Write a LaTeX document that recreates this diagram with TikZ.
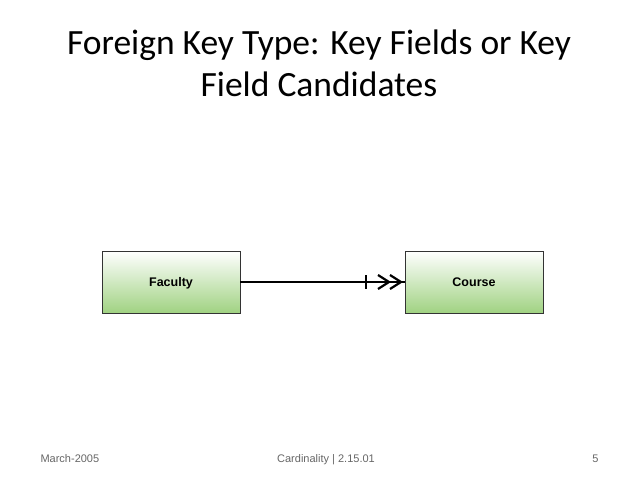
\documentclass[tikz,border=0pt]{standalone}
\usepackage{fontspec}
\setmainfont{Carlito}
\newfontfamily\arial{Liberation Sans}
\begin{document}
\begin{tikzpicture}[x=1pt,y=-1pt,
  ent/.style={draw=black!80,line width=0.6pt,minimum width=138pt,minimum height=62pt,inner sep=0pt,
    text height=9pt,text depth=0pt,top color=white,bottom color={rgb,255:red,160;green,210;blue,130},
    font=\arial\bfseries\fontsize{12.5}{14}\selectfont},
  foot/.style={text=black!60,font=\arial\fontsize{11}{13}\selectfont}]
\useasboundingbox (0,0) rectangle (638,478);
\node (title) at (319,63) [align=center,font=\fontsize{35.5}{42}\selectfont] {Foreign Key Type: Key Fields or Key\\Field Candidates};
\node[ent] (fac) at (171,282) {Faculty};
\node[ent] (crs) at (474,282) {Course};
\draw[line width=1.2pt] (fac.east) -- (crs.west);
\coordinate (b) at (366,282);
\draw[line width=1.2pt] ([yshift=-7]b) -- ([yshift=7]b);
\draw[line width=2.2pt,line join=miter] (378,275) -- (389,282) -- (378,289);
\draw[line width=2.2pt,line join=miter] (390,275) -- (401,282) -- (390,289);
\node[foot,anchor=base west] (d) at (37,463) {March-2005};
\node[foot,anchor=base] (c) at (326,463) {Cardinality | 2.15.01};
\node[foot,anchor=base east] (p) at (602,463) {5};
\end{tikzpicture}
\end{document}
